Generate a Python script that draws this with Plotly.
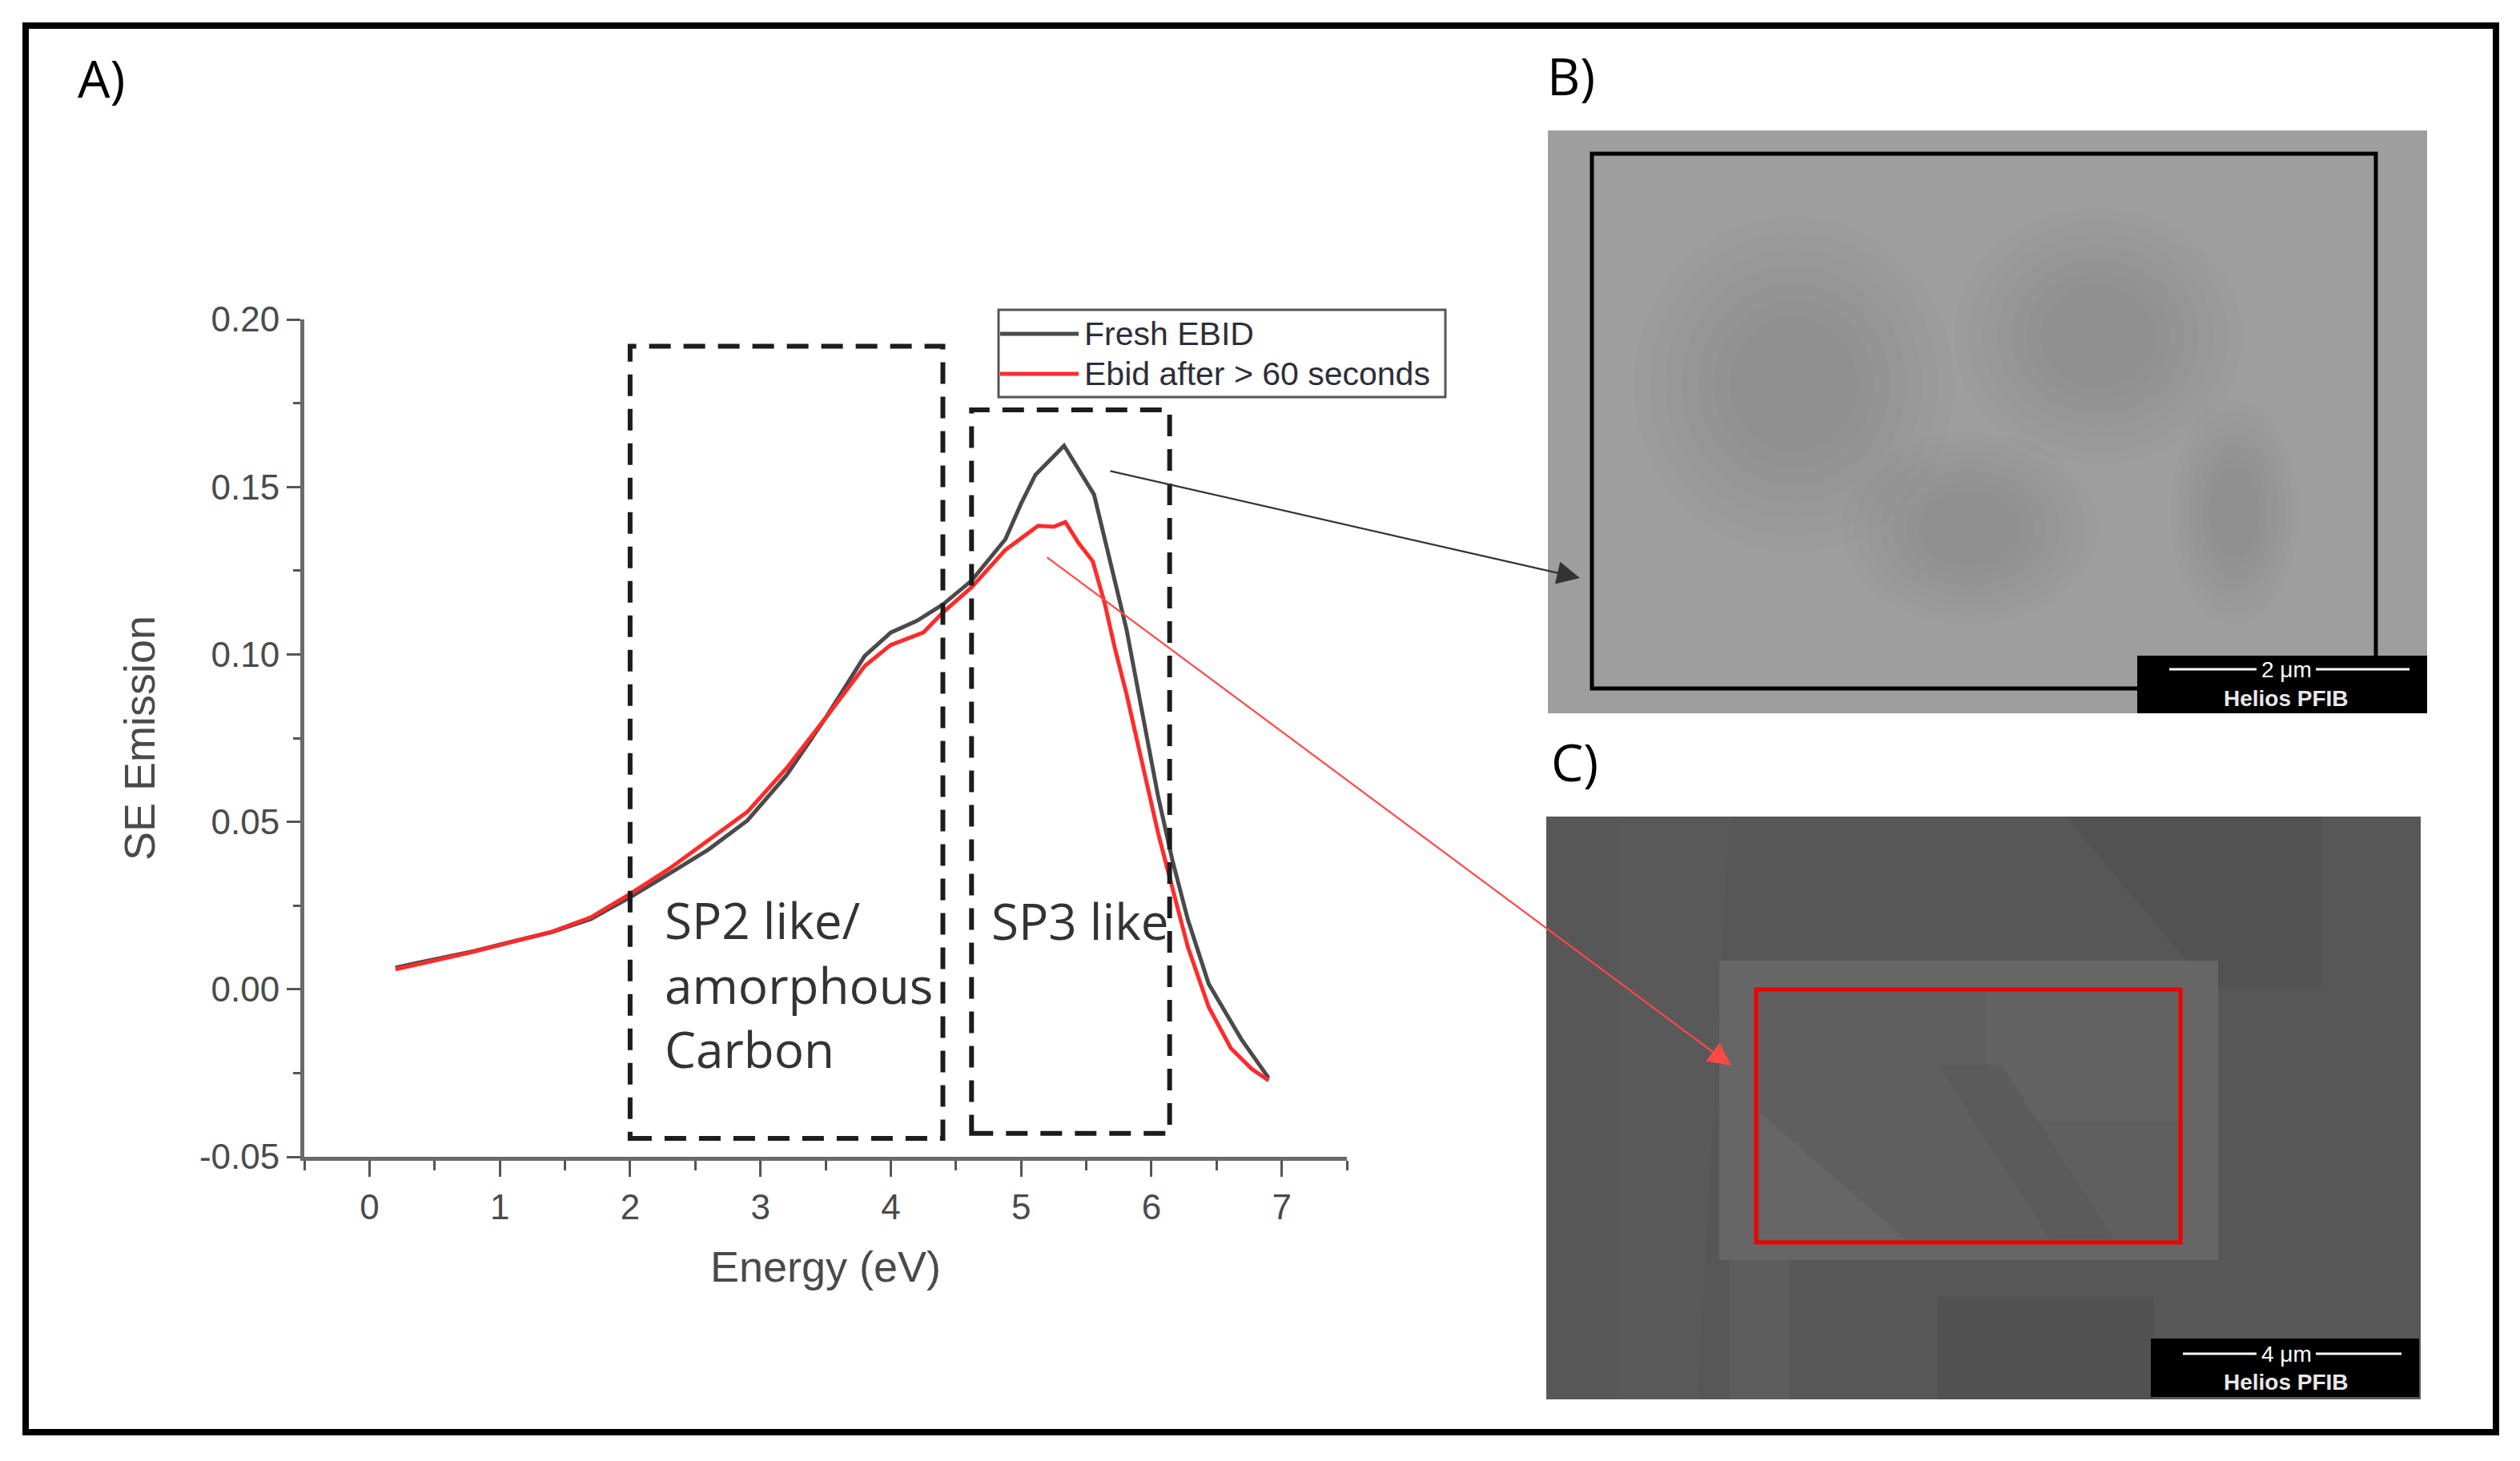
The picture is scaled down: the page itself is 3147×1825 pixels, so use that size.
import plotly.graph_objects as go

# SE emission spectra
energy_fresh = [0.2, 0.5, 0.8, 1.1, 1.4, 1.7, 2.0, 2.3, 2.6, 2.9, 3.2, 3.5, 3.8, 4.0, 4.2, 4.4,
                4.62, 4.88, 5.0, 5.11, 5.33, 5.56, 5.64, 5.72, 5.81, 5.89, 5.97, 6.05, 6.16,
                6.28, 6.44, 6.69, 6.9]
se_fresh = [0.0065, 0.0088, 0.0114, 0.0143, 0.0171, 0.021, 0.0275, 0.0345, 0.0417, 0.0504,
            0.0639, 0.081, 0.0995, 0.1065, 0.110, 0.1149, 0.122, 0.1344, 0.145, 0.1536,
            0.1623, 0.1477, 0.1347, 0.121, 0.1073, 0.0908, 0.0743, 0.0579, 0.0387, 0.0208,
            0.0016, -0.0149, -0.0265]

energy_aged = [0.2, 0.5, 0.8, 1.1, 1.4, 1.7, 2.0, 2.3, 2.6, 2.9, 3.2, 3.5, 3.8, 4.0, 4.25, 4.4,
               4.62, 4.88, 5.02, 5.13, 5.25, 5.34, 5.44, 5.55, 5.64, 5.72, 5.81, 5.89, 5.97,
               6.05, 6.16, 6.28, 6.44, 6.61, 6.77, 6.9]
se_aged = [0.006, 0.0085, 0.0112, 0.0142, 0.0172, 0.0215, 0.0285, 0.036, 0.0445, 0.053,
           0.066, 0.081, 0.0965, 0.1028, 0.1065, 0.1125, 0.120, 0.1312, 0.1352, 0.1384,
           0.1381, 0.1395, 0.1333, 0.1278, 0.1155, 0.1018, 0.088, 0.0743, 0.0606, 0.0469,
           0.0304, 0.0126, -0.0053, -0.0176, -0.0238, -0.0272]

series_names = ["Fresh EBID", "Ebid after > 60 seconds"]

x_ticks = [0, 1, 2, 3, 4, 5, 6, 7]
y_ticks = [-0.05, 0.0, 0.05, 0.10, 0.15, 0.20]
y_ticktext = ["-0.05", "0.00", "0.05", "0.10", "0.15", "0.20"]

# energy windows of the two bonding regions (dashed boxes)
sp2_box = dict(x0=2.0, x1=4.4, y0=-0.0445, y1=0.192)
sp3_box = dict(x0=4.62, x1=6.14, y0=-0.043, y1=0.173)

W, H, OFF = 3131, 1809, 8


def px(x):
    return (x - OFF) / W


def py(y):
    return 1 - (y - OFF) / H


def poly(points):
    return 'M ' + ' L '.join(f'{px(a)},{py(b)}' for a, b in points) + ' Z'


GREY_TXT = '#4a4a4a'
BLACK_LINE = '#4a4a4a'
RED_LINE = '#ff2b2b'

fig = go.Figure()
fig.add_trace(go.Scatter(x=energy_fresh, y=se_fresh, mode='lines', name=series_names[0],
                         line=dict(color=BLACK_LINE, width=5), showlegend=False))
fig.add_trace(go.Scatter(x=energy_aged, y=se_aged, mode='lines', name=series_names[1],
                         line=dict(color=RED_LINE, width=5), showlegend=False))

shapes = []
annotations = []

# outer frame
shapes.append(dict(type='rect', xref='paper', yref='paper', x0=px(32), x1=px(3117),
                   y0=py(1789), y1=py(32), line=dict(color='black', width=8)))

# dashed region boxes
for b in (sp2_box, sp3_box):
    shapes.append(dict(type='rect', xref='x', yref='y', **b,
                       line=dict(color='#1c1c1c', width=6, dash='27px,16px')))

# hand-made legend
shapes.append(dict(type='rect', xref='paper', yref='paper', x0=px(1247), x1=px(1805),
                   y0=py(496), y1=py(387), line=dict(color='#555555', width=3),
                   fillcolor='white'))
for yy, col, name in ((417, BLACK_LINE, series_names[0]), (467, RED_LINE, series_names[1])):
    shapes.append(dict(type='line', xref='paper', yref='paper', x0=px(1249), x1=px(1347),
                       y0=py(yy), y1=py(yy), line=dict(color=col, width=5)))
    annotations.append(dict(xref='paper', yref='paper', x=px(1352), y=py(yy), text=name,
                            showarrow=False, xanchor='left', yanchor='middle',
                            font=dict(family='Liberation Sans', size=41, color='#2e2e3a')))

# region labels
annotations.append(dict(xref='x', yref='y', x=2.25, y=0.0015,
                        text='SP2 like/<br>amorphous<br>Carbon', align='left',
                        showarrow=False, xanchor='left', yanchor='middle',
                        font=dict(family='Open Sans', size=62, color='#333333')))
annotations.append(dict(xref='x', yref='y', x=4.76, y=0.0205, text='SP3 like',
                        showarrow=False, xanchor='left', yanchor='middle',
                        font=dict(family='Open Sans', size=62, color='#333333')))

# panel letters
for txt, xx, yy in (('A)', 95, 98), ('B)', 1930, 94), ('C)', 1935, 952)):
    annotations.append(dict(xref='paper', yref='paper', x=px(xx), y=py(yy), text=txt,
                            showarrow=False, xanchor='left', yanchor='middle',
                            font=dict(family='Open Sans', size=64, color='black')))

# ---- panel B: SEM image of the fresh deposit (drawn) ----
shapes.append(dict(type='rect', xref='paper', yref='paper', x0=px(1933), x1=px(3031),
                   y0=py(891), y1=py(163), line=dict(width=0), fillcolor='#9e9e9e',
                   layer='below'))
for cx, cy, rx, ry in ((2240, 480, 200, 210), (2620, 420, 180, 160),
                       (2790, 640, 80, 140), (2460, 660, 160, 120)):
    for k in (1.0, 0.9, 0.8, 0.7, 0.6, 0.5, 0.4):
        shapes.append(dict(type='circle', xref='paper', yref='paper',
                           x0=px(cx - rx * k), x1=px(cx + rx * k),
                           y0=py(cy + ry * k), y1=py(cy - ry * k),
                           line=dict(width=0), fillcolor='#7a7a7a', opacity=0.035,
                           layer='below'))
shapes.append(dict(type='rect', xref='paper', yref='paper', x0=px(1988), x1=px(2967),
                   y0=py(860), y1=py(192), line=dict(color='black', width=5)))

# ---- panel C: SEM image after exposure (drawn) ----
shapes.append(dict(type='rect', xref='paper', yref='paper', x0=px(1931), x1=px(3023),
                   y0=py(1748), y1=py(1020), line=dict(width=0), fillcolor='#575757',
                   layer='below'))
c_patches = [
    ([(2580, 1020), (2900, 1020), (2900, 1235), (2760, 1235)], '#4d4d4d', 0.5),
    ([(2020, 1020), (2160, 1020), (2120, 1748), (2020, 1748)], '#5c5c5c', 0.4),
    ([(2160, 1574), (2235, 1574), (2235, 1748), (2160, 1748)], '#606060', 0.7),
    ([(2420, 1620), (2690, 1620), (2690, 1748), (2420, 1748)], '#4c4c4c', 0.6),
    ([(2147, 1200), (2770, 1200), (2770, 1574), (2147, 1574)], '#666666', 1.0),
    ([(2193, 1236), (2723, 1236), (2723, 1552), (2193, 1552)], '#5f5f5f', 1.0),
    ([(2480, 1240), (2720, 1240), (2720, 1400), (2480, 1400)], '#656565', 0.7),
    ([(2198, 1390), (2198, 1548), (2380, 1548)], '#6a6a6a', 0.7),
    ([(2420, 1330), (2500, 1330), (2640, 1548), (2560, 1548)], '#585858', 0.6),
]
for pts, col, op in c_patches:
    shapes.append(dict(type='path', xref='paper', yref='paper', path=poly(pts),
                       line=dict(width=0), fillcolor=col, opacity=op, layer='below'))
shapes.append(dict(type='rect', xref='paper', yref='paper', x0=px(2193), x1=px(2723),
                   y0=py(1552), y1=py(1236), line=dict(color='#f00000', width=5)))

# scale bars
for (x0, x1, y0, y1), label, ybar, yname in (((2669, 3031, 819, 891), '2 μm', 836, 872),
                                             ((2686, 3021, 1672, 1745), '4 μm', 1691, 1726)):
    shapes.append(dict(type='rect', xref='paper', yref='paper', x0=px(x0), x1=px(x1),
                       y0=py(y1), y1=py(y0), line=dict(width=0), fillcolor='black'))
    shapes.append(dict(type='line', xref='paper', yref='paper', x0=px(x0 + 40), x1=px(2818),
                       y0=py(ybar), y1=py(ybar), line=dict(color='white', width=3)))
    shapes.append(dict(type='line', xref='paper', yref='paper', x0=px(2892), x1=px(x1 - 22),
                       y0=py(ybar), y1=py(ybar), line=dict(color='white', width=3)))
    annotations.append(dict(xref='paper', yref='paper', x=px(2855), y=py(ybar), text=label,
                            showarrow=False, xanchor='center', yanchor='middle',
                            font=dict(family='Liberation Sans', size=28, color='white')))
    annotations.append(dict(xref='paper', yref='paper', x=px(2855), y=py(yname),
                            text='<b>Helios PFIB</b>', showarrow=False, xanchor='center',
                            yanchor='middle',
                            font=dict(family='Liberation Sans', size=28, color='#e8e8e8')))

# arrows from the peaks to the images
for (tx, ty), (hx, hy), col in (((1385, 588), (1973, 722), '#333333'),
                                ((1306, 695), (2162, 1331), '#ff4848')):
    annotations.append(dict(xref='paper', yref='paper', axref='pixel', ayref='pixel',
                            x=px(hx), y=py(hy), ax=tx - hx, ay=ty - hy, text='',
                            showarrow=True, arrowhead=2, arrowsize=2.6, arrowwidth=2.2,
                            arrowcolor=col, standoff=0))

fig.update_layout(
    width=W, height=H,
    margin=dict(l=0, r=0, t=0, b=0),
    template='none',
    paper_bgcolor='white', plot_bgcolor='white',
    showlegend=False,
    shapes=shapes, annotations=annotations,
    xaxis=dict(domain=[px(380), px(1682)], range=[-0.5, 7.5], tickvals=x_ticks,
               ticks='outside', ticklen=20, tickwidth=3, tickcolor='#555555',
               showline=True, linewidth=5, linecolor='#6a6a6a',
               showgrid=False, zeroline=False,
               minor=dict(ticks='outside', ticklen=12, tickwidth=3, tickcolor='#555555',
                          tick0=0, dtick=0.5, showgrid=False),
               tickfont=dict(family='Liberation Sans', size=44, color=GREY_TXT),
               title=dict(text='Energy (eV)', standoff=34,
                          font=dict(family='Liberation Sans', size=54, color=GREY_TXT))),
    yaxis=dict(domain=[py(1445), py(399)], range=[-0.05, 0.20], tickvals=y_ticks,
               ticktext=y_ticktext, ticks='outside', ticklen=17, tickwidth=3,
               tickcolor='#555555', showline=True, linewidth=5, linecolor='#6a6a6a',
               showgrid=False, zeroline=False,
               minor=dict(ticks='outside', ticklen=9, tickwidth=3, tickcolor='#555555',
                          tick0=0, dtick=0.025, showgrid=False),
               tickfont=dict(family='Liberation Sans', size=44, color=GREY_TXT),
               title=dict(text='SE Emission', standoff=40,
                          font=dict(family='Liberation Sans', size=54, color=GREY_TXT))),
)

fig.write_html("out.html")
